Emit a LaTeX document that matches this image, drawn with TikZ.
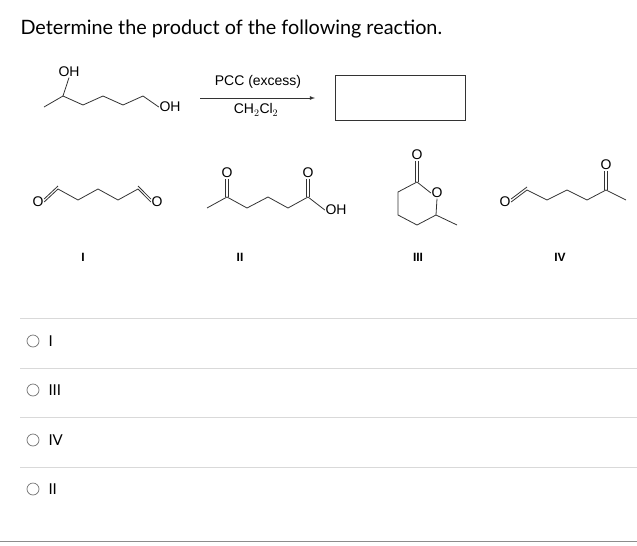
\documentclass[tikz,border=0pt]{standalone}
\usepackage{fontspec}
\setmainfont{Lato}
\newfontfamily\chem{Liberation Sans}
\begin{document}
\begin{tikzpicture}[x=1pt,y=-1pt,
 bd/.style={line width=0.8pt,black!80},
 atm/.style={font=\chem\fontsize{14}{15}\selectfont,inner sep=0.5pt},
 lab/.style={font=\chem\bfseries\fontsize{12}{13}\selectfont},
 opt/.style={font=\fontsize{15}{17}\selectfont,anchor=west},
 radio/.style={draw=black!55,circle,minimum size=12pt,inner sep=0pt,line width=0.7pt},
 sep/.style={draw=black!15,line width=0.6pt}]
\useasboundingbox (0,0) rectangle (637,546);
\node[anchor=west,font=\fontsize{19.8}{22}\selectfont] (title) at (17,29) {Determine the product of the following reaction.};
% starting material
\coordinate (s0) at (44,107); \coordinate (s1) at (63,96); \coordinate (s2) at (83,105);
\coordinate (s3) at (103,96); \coordinate (s4) at (123,105); \coordinate (s5) at (143,96);
\node[atm] (soh1) at (69,72) {OH};
\node[atm] (soh2) at (170,107) {OH};
\draw[bd] (s0)--(s1)--(s2)--(s3)--(s4)--(s5)--(soh2.west);
\draw[bd] (s1)--(soh1.south);
\node[atm] (pcc) at (258,82) {PCC (excess)};
\node[atm] (sol) at (256,110) {CH$_2$Cl$_2$};
\coordinate (a1) at (200,98); \coordinate (a2) at (315,98);
\draw[bd,-latex] (a1)--(a2);
\node[draw=black!80,line width=1pt,minimum width=130pt,minimum height=45pt] (box) at (400,98) {};
% I
\node[atm] (io1) at (38,202) {O}; \node[atm] (io2) at (157,202) {O};
\coordinate (i1) at (58,189); \coordinate (i2) at (78,200); \coordinate (i3) at (98,189);
\coordinate (i4) at (118,200); \coordinate (i5) at (138,189);
\draw[bd] (i1)--(i2)--(i3)--(i4)--(i5);
\draw[bd] (io1.east)--(i1); \draw[bd] ([yshift=3pt]io1.east)--([yshift=3pt]i1);
\draw[bd] (i5)--(io2.west); \draw[bd] ([yshift=3pt]i5)--([yshift=3pt]io2.west);
\node[lab] (L1) at (83,257) {I};
% II
\coordinate (j0) at (207,208); \coordinate (j1) at (227,197); \coordinate (j2) at (247,208);
\coordinate (j3) at (268,197); \coordinate (j4) at (288,208); \coordinate (j5) at (308,197);
\node[atm] (jo1) at (227,173) {O}; \node[atm] (jo2) at (308,173) {O};
\node[atm] (joh) at (336,210) {OH};
\draw[bd] (j0)--(j1)--(j2)--(j3)--(j4)--(j5)--(joh.west);
\draw[bd] ([xshift=-1.6pt]j1)--([xshift=-1.6pt]jo1.south); \draw[bd] ([xshift=1.6pt]j1)--([xshift=1.6pt]jo1.south);
\draw[bd] ([xshift=-1.6pt]j5)--([xshift=-1.6pt]jo2.south); \draw[bd] ([xshift=1.6pt]j5)--([xshift=1.6pt]jo2.south);
\node[lab] (L2) at (240,257) {II};
% III
\coordinate (k1) at (417,182); \coordinate (k2) at (398,192); \coordinate (k3) at (398,215);
\coordinate (k4) at (417,225); \coordinate (k5) at (436,215); \coordinate (k6) at (457,225);
\node[atm] (ko) at (417,155) {O}; \node[atm] (kro) at (437,193) {O};
\draw[bd] (kro.west)--(k1)--(k2)--(k3)--(k4)--(k5)--(kro.south);
\draw[bd] (k5)--(k6);
\draw[bd] ([xshift=-1.6pt]k1)--([xshift=-1.6pt]ko.south); \draw[bd] ([xshift=1.6pt]k1)--([xshift=1.6pt]ko.south);
\node[lab] (L3) at (418,257) {III};
% IV
\node[atm] (lo1) at (505,202) {O}; \node[atm] (lo2) at (606,165) {O};
\coordinate (l1) at (527,190); \coordinate (l2) at (547,200); \coordinate (l3) at (567,190);
\coordinate (l4) at (587,200); \coordinate (l5) at (606,190); \coordinate (l6) at (626,200);
\draw[bd] (l1)--(l2)--(l3)--(l4)--(l5)--(l6);
\draw[bd] (lo1.east)--(l1); \draw[bd] ([yshift=3pt]lo1.east)--([yshift=3pt]l1);
\draw[bd] ([xshift=-1.6pt]l5)--([xshift=-1.6pt]lo2.south); \draw[bd] ([xshift=1.6pt]l5)--([xshift=1.6pt]lo2.south);
\node[lab] (L4) at (560,257) {IV};
% options
\coordinate (g0a) at (20,318); \coordinate (g0b) at (637,318);
\coordinate (g1a) at (20,368); \coordinate (g1b) at (637,368);
\coordinate (g2a) at (20,417); \coordinate (g2b) at (637,417);
\coordinate (g3a) at (20,467); \coordinate (g3b) at (637,467);
\coordinate (g4a) at (0,541); \coordinate (g4b) at (637,541);
\draw[sep] (g0a)--(g0b); \draw[sep] (g1a)--(g1b); \draw[sep] (g2a)--(g2b); \draw[sep] (g3a)--(g3b);
\draw[draw=black!45,line width=0.8pt] (g4a)--(g4b);
\node[radio] (r1) at (33,341) {}; \node[opt] (o1) at (45,341) {I};
\node[radio] (r2) at (33,390) {}; \node[opt] (o2) at (45,390) {III};
\node[radio] (r3) at (33,440) {}; \node[opt] (o3) at (45,440) {IV};
\node[radio] (r4) at (33,489) {}; \node[opt] (o4) at (45,489) {II};
\end{tikzpicture}
\end{document}
